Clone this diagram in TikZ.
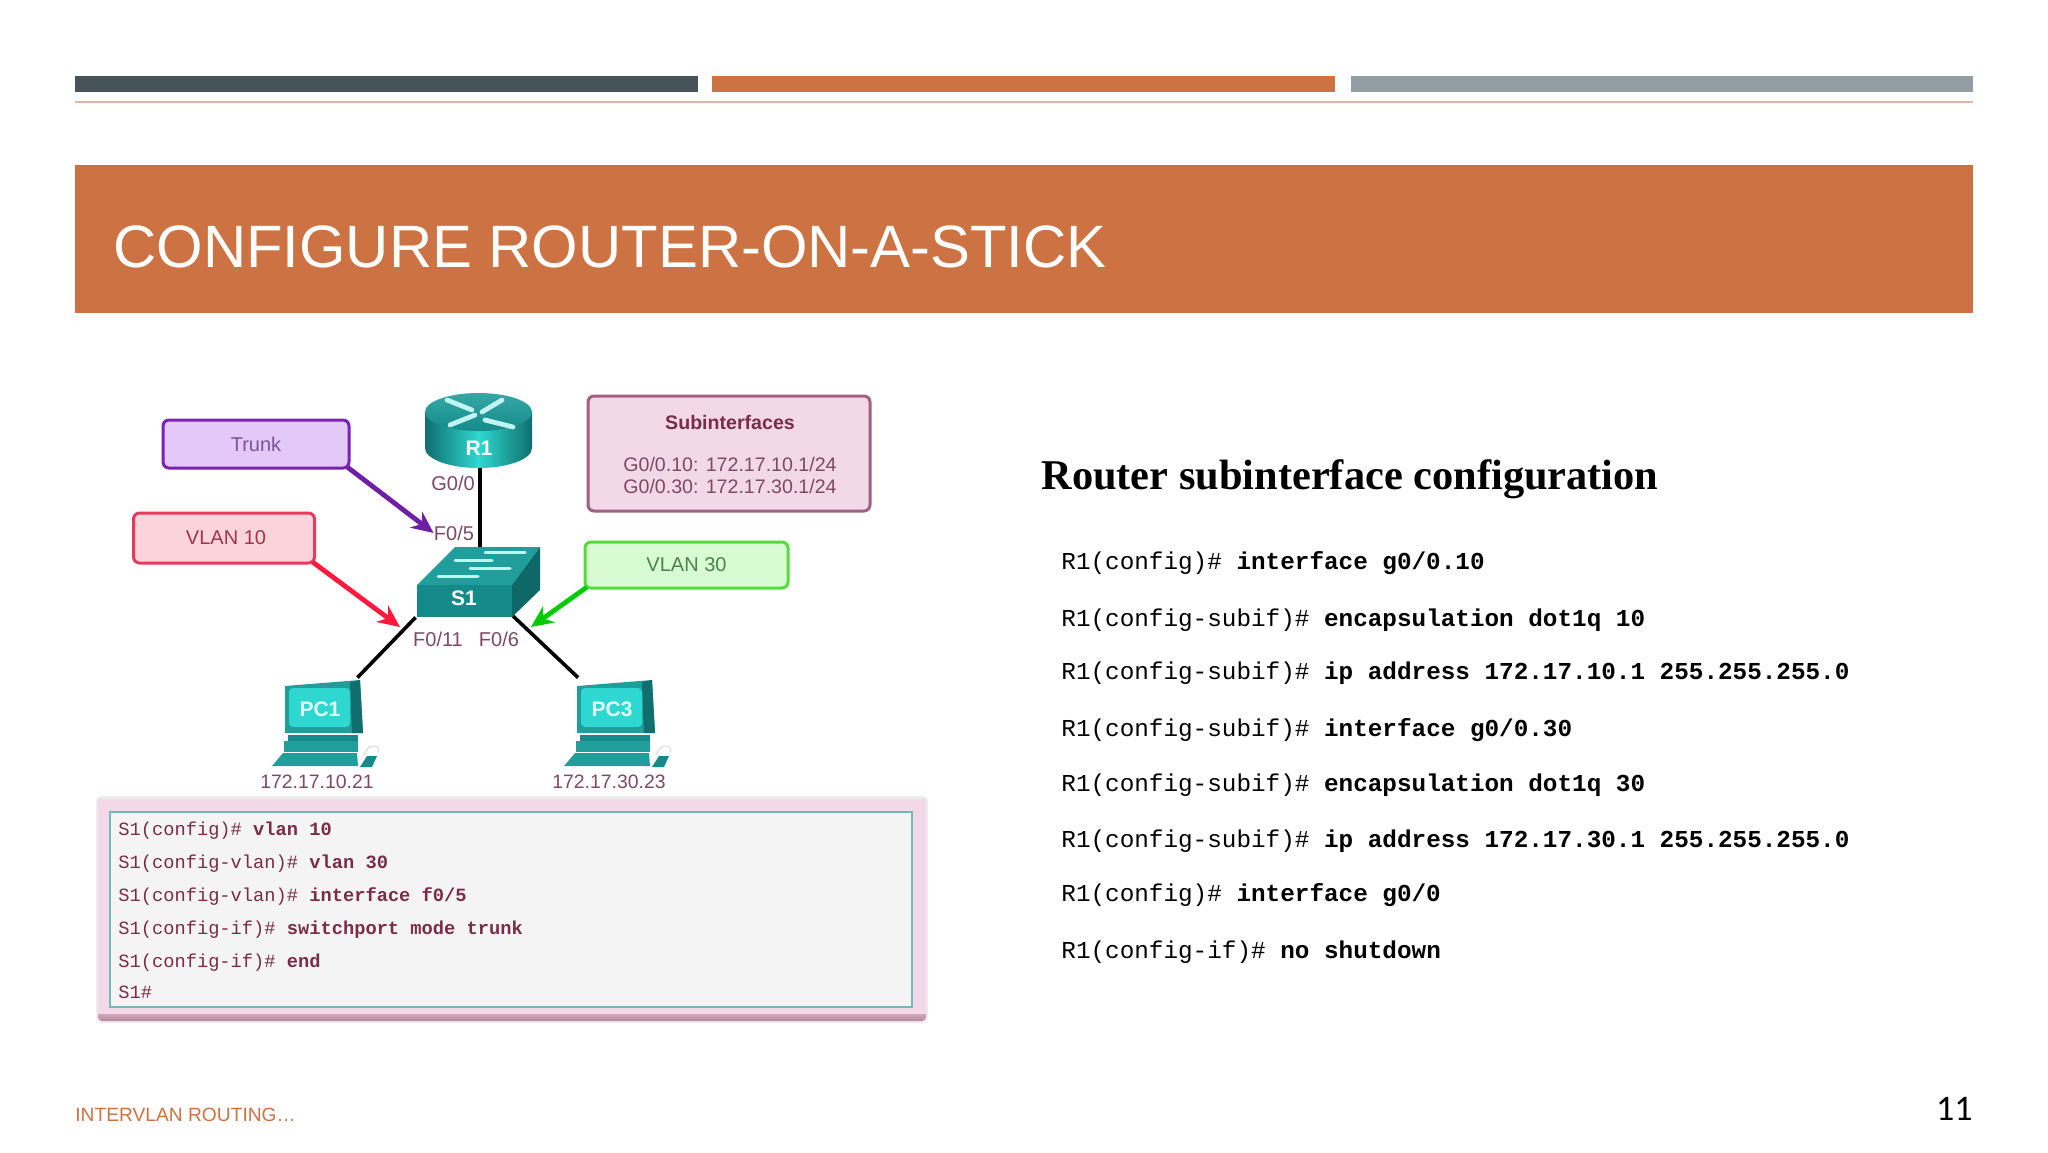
\documentclass[tikz,border=0pt]{standalone}
\usepackage{fontspec}
\setmainfont{Liberation Sans}
\setmonofont{Liberation Mono}
\newfontfamily\titleserif{Liberation Serif}
\newfontfamily\pagefont{Carlito}
\usetikzlibrary{arrows.meta}

\definecolor{slatebar}{HTML}{465359}
\definecolor{rustbar}{HTML}{CC7243}
\definecolor{greybar}{HTML}{939EA4}
\definecolor{ruleline}{HTML}{DDB5A0}
\definecolor{lblcol}{HTML}{7D4A62}
\definecolor{cfgcol}{HTML}{7A2C48}
\definecolor{tealdark}{HTML}{148A8A}
\definecolor{tealmid}{HTML}{1F9E9C}
\definecolor{teallite}{HTML}{2ED8D0}
\definecolor{trunkline}{HTML}{7B22B5}
\definecolor{trunkfill}{HTML}{E3C8F8}
\definecolor{redline}{HTML}{E83A5F}
\definecolor{redfill}{HTML}{FBD3DA}
\definecolor{greenline}{HTML}{55DC3A}
\definecolor{greenfill}{HTML}{D8FBD4}
\definecolor{subifline}{HTML}{A0607F}
\definecolor{subiffill}{HTML}{F3D9E8}

\begin{document}
\begin{tikzpicture}[
    x=0.5pt,y=-0.5pt,
    every node/.style={inner sep=0pt},
    callout/.style={rounded corners=3pt, line width=1.5pt, minimum height=24pt, font=\fontsize{10}{12}\selectfont, text=lblcol},
    lbl/.style={font=\fontsize{10}{12}\selectfont, text=lblcol},
    hostlbl/.style={font=\fontsize{9.7}{12}\selectfont, text=lblcol},
    subiflbl/.style={font=\fontsize{9.8}{12}\selectfont, text=lblcol},
    devtext/.style={font=\fontsize{10.5}{12}\bfseries\selectfont, text=white},
    devbox/.style={draw=none},
    link/.style={draw=black, line width=1.8pt},
    pointer/.style={line width=2.4pt, shorten <=-2pt, -{Stealth[length=11pt,width=10pt]}},
    swcmd/.style={anchor=base west, font=\fontsize{9.36}{11}\ttfamily\selectfont, text=cfgcol},
    rtcmd/.style={anchor=base west, font=\fontsize{12.16}{14}\ttfamily\selectfont, text=black},
    glint/.style={draw=white!70!teallite, line width=1.5pt, line cap=round}
]
    \useasboundingbox[fill=white] (0,0) rectangle (2048,1152);

    % top bars and title band
    \fill[slatebar] (75,76) rectangle (698,92);
    \fill[rustbar] (712,76) rectangle (1335,92);
    \fill[greybar] (1351,76) rectangle (1973,92);
    \draw[ruleline, line width=0.6pt] (75,102) -- (1973,102);
    \fill[rustbar] (75,165) rectangle (1973,313);
    \node[anchor=base west, font=\fontsize{29.9}{34}\selectfont, text=white] (slidetitle) at (113,267) {CONFIGURE ROUTER-ON-A-STICK};

    % device outlines, used by the links
    \node[devbox, minimum width=53.5pt, minimum height=37.5pt] (R1) at (480,430.5) {};
    \node[devbox, minimum width=64pt, minimum height=35pt] (S1) at (480,582) {};
    \node[devbox, minimum width=36pt, minimum height=45pt] (PC1) at (321,723) {};
    \node[devbox, minimum width=36pt, minimum height=45pt] (PC3) at (614.5,723) {};
    \coordinate (S1right) at (513,616);

    \draw[link] (R1.south) -- (S1.north);
    \draw[link] (S1.south west) -- (PC1.north east);
    \draw[link] (S1right) -- (PC3.north west);

    % router
    \shade[left color=tealdark!80!black, right color=tealdark!80!black, middle color=teallite]
        (425,412) -- (425,448) arc[start angle=180,end angle=360,x radius=26.75pt,y radius=10pt] -- (532,412) -- cycle;
    \shade[top color=tealmid!90!white, bottom color=tealdark] (478.5,412) ellipse [x radius=26.75pt, y radius=9.5pt];
    \draw[glint, line width=2.4pt] (447,400) -- (472,410) (485,420) -- (513,427);
    \draw[glint, line width=2.4pt] (502,400) -- (482,412) (475,415) -- (450,425);
    \node[devtext] (R1txt) at (479,448) {R1};

    % switch
    \fill[tealmid] (417,585) -- (455,547) -- (540,547) -- (512,585) -- cycle;
    \fill[tealdark!75!black] (512,585) -- (540,547) -- (540,590) -- (512,617) -- cycle;
    \fill[tealdark] (417,585) rectangle (512,617);
    \foreach \xa/\xb/\ya in {485/525/552, 455/492/560, 470/510/568, 438/478/576} {
        \draw[glint] (\xa,\ya) -- (\xb,\ya);
    }
    \node[devtext] (S1txt) at (464,598) {S1};

    % the two PCs
    \foreach \dx/\pcname in {0/PC1, 292/PC3} {
        \begin{scope}[shift={(\dx,0)}]
            \fill[tealmid] (285,686) -- (360,680) -- (363,733) -- (285,733) -- cycle;
            \fill[tealdark!80!black] (350,682) -- (360,680) -- (363,733) -- (352,733) -- cycle;
            \fill[teallite, rounded corners=2pt] (289,688) rectangle (350,727);
            \fill[tealdark] (288,735) rectangle (358,741);
            \fill[tealmid] (284,741) rectangle (358,752);
            \fill[tealmid] (283,753) -- (357,753) -- (358,766) -- (272,766) -- cycle;
            \fill[tealdark] (360,767) -- (367,756) -- (377,756) -- (372,767) -- cycle;
            \draw[gray!30, line width=0.5pt] (364,755) .. controls (368,742) and (382,745) .. (378,752);
            \node[devtext, text=white!85!teallite] (\pcname txt) at (320,709) {\pcname};
        \end{scope}
    }

    % port and host labels
    \node[lbl] (G00) at (453,483) {G0/0};
    \node[lbl] (F05) at (454,533) {F0/5};
    \node[lbl] (F011) at (438,639) {F0/11};
    \node[lbl] (F06) at (499,639) {F0/6};
    \node[hostlbl] (PC1addr) at (317,782) {172.17.10.21};
    \node[hostlbl] (PC3addr) at (609,782) {172.17.30.23};

    % callouts
    \node[callout, draw=trunkline, fill=trunkfill, minimum width=93pt, text=trunkline!45!gray] (trunkbox) at (256,444) {Trunk};
    \node[callout, draw=redline, fill=redfill, minimum width=90.5pt, minimum height=25pt, text=lblcol!75!red] (vlan10box) at (224,538) {\hspace*{2pt}VLAN 10};
    \node[callout, draw=greenline, fill=greenfill, minimum width=101.5pt, minimum height=23pt, text=green!30!black!70!white] (vlan30box) at (686.5,565) {VLAN 30};
    \coordinate (vlan10end) at (400,627);
    \coordinate (vlan30end) at (531,627);
    \draw[pointer, draw=trunkline!90!black, fill=trunkline!90!black] (trunkbox.south east) -- (F05.west);
    \draw[pointer, draw=red!85!magenta!90!white, fill=red!85!magenta!90!white] (vlan10box.south east) -- (vlan10end);
    \draw[pointer, draw=green!80!black, fill=green!80!black] (vlan30box.south west) -- (vlan30end);

    \node[callout, draw=subifline, fill=subiffill, minimum width=141pt, minimum height=57.5pt] (subifbox) at (729,453.5) {};
    \node[font=\fontsize{9.8}{12}\bfseries\selectfont, text=cfgcol] (subiftitle) at (730,422) {Subinterfaces};
    \node[subiflbl] (subif10) at (730,464) {G0/0.10: 172.17.10.1/24};
    \node[subiflbl] (subif30) at (730,486) {G0/0.30: 172.17.30.1/24};

    % switch config box
    \fill[gray!14, rounded corners=3pt] (96,796) rectangle (928,1023);
    \shade[top color=subiffill, bottom color=subifline!75!white, rounded corners=2pt] (98,1003) rectangle (926,1021);
    \fill[subiffill] (98,799) rectangle (926,1014);
    \draw[draw=teal!55!white, fill=gray!9, line width=1pt] (110,812) rectangle (912,1007);
    \foreach \y/\prm/\cmd [count=\i] in {835/S1(config)\#/vlan 10, 868/S1(config-vlan)\#/vlan 30, 901/S1(config-vlan)\#/{interface f0/5}, 934/S1(config-if)\#/switchport mode trunk, 967/S1(config-if)\#/end, 998/S1\#/{}} {
        \node[swcmd] (swline\i) at (118,\y) {\prm{} \textbf{\cmd}};
    }

    % router config text
    \node[anchor=base west, font=\fontsize{21.2}{25}\bfseries\titleserif\selectfont] (cfgtitle) at (1041,489) {Router subinterface configuration};
    \foreach \y/\prm/\cmd [count=\i] in {569/R1(config)\#/{interface g0/0.10}, 626/R1(config-subif)\#/encapsulation dot1q 10, 679/R1(config-subif)\#/ip address 172.17.10.1 255.255.255.0, 736/R1(config-subif)\#/{interface g0/0.30}, 791/R1(config-subif)\#/encapsulation dot1q 30, 847/R1(config-subif)\#/ip address 172.17.30.1 255.255.255.0, 901/R1(config)\#/{interface g0/0}, 958/R1(config-if)\#/no shutdown} {
        \node[rtcmd] (rtline\i) at (1061,\y) {\prm{} \textbf{\cmd}};
    }

    % footer
    \node[anchor=base west, font=\fontsize{9.6}{12}\selectfont, text=rustbar] (footer) at (75,1121) {INTERVLAN ROUTING…};
    \node[anchor=base east, font=\fontsize{18}{20}\pagefont\selectfont, text=black] (pagenum) at (1973,1120) {11};
\end{tikzpicture}
\end{document}
